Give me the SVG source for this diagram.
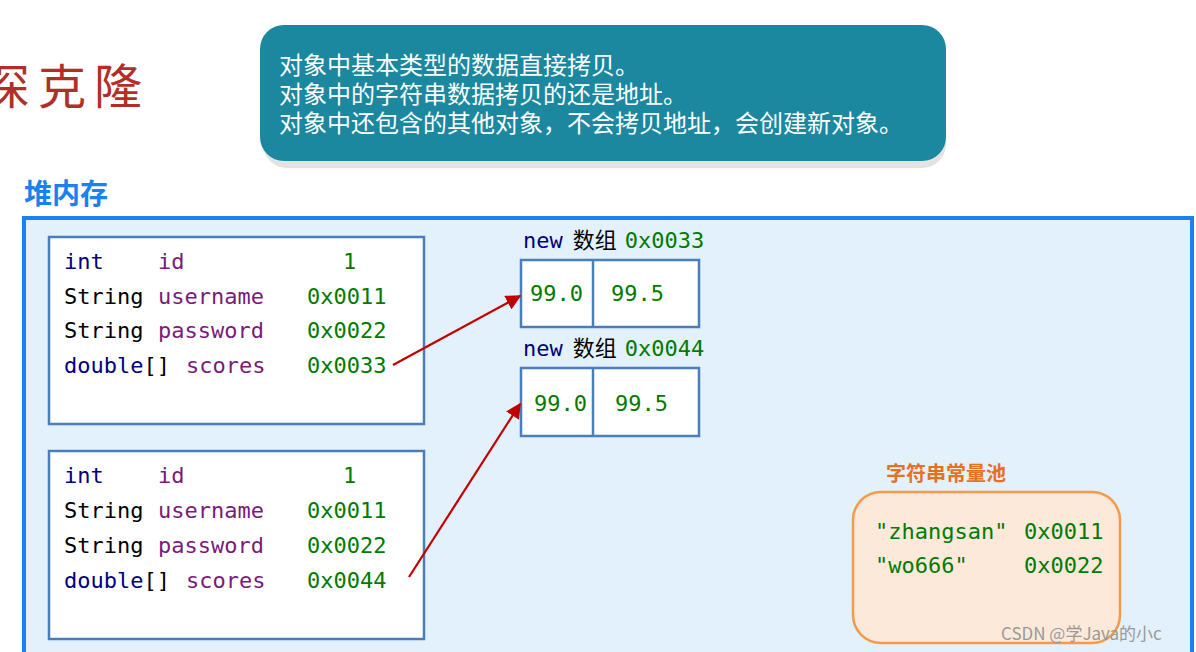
<svg xmlns="http://www.w3.org/2000/svg" width="1196" height="652" viewBox="0 0 1196 652">
<defs>
<style>
.m{font-family:"DejaVu Sans Mono","Liberation Mono",monospace;font-size:22px}
.k{fill:#000080}.v{fill:#7a1a7a}.g{fill:#007a00}.b{fill:#000}
.box{fill:#fff;stroke:#4a7ebb;stroke-width:2.5}
.cjk{font-family:"Noto Sans CJK SC",sans-serif}
</style>
<marker id="ah" viewBox="0 0 10 10" refX="9" refY="5" markerWidth="7" markerHeight="7" orient="auto"><path d="M0,0 L10,5 L0,10 z" fill="#c00000"/></marker>
</defs>
<rect width="1196" height="652" fill="#fff"/>
<text x="-18" y="104" class="cjk" font-size="48" fill="#b03028" letter-spacing="8">深克隆</text>
<g id="note">
<rect x="263" y="31" width="683" height="137" rx="24" fill="#e3e3e3"/>
<rect x="260" y="25" width="686" height="136" rx="24" fill="#1b88a0"/>
<text class="cjk" font-size="24" fill="#fff"><tspan x="279" y="74">对象中基本类型的数据直接拷贝。</tspan><tspan x="279" y="103">对象中的字符串数据拷贝的还是地址。</tspan><tspan x="279" y="132">对象中还包含的其他对象，不会拷贝地址，会创建新对象。</tspan></text>
</g>
<text x="24" y="204" class="cjk" font-size="28" font-weight="bold" fill="#1a82f0">堆内存</text>
<g id="heap"><rect x="24" y="218" width="1168" height="440" fill="#e3f1fd" stroke="#1a82f0" stroke-width="4"/></g>
<g id="obj1">
<rect class="box" x="49" y="237" width="375" height="187"/>
<text class="m"><tspan class="k" x="64" y="269">int</tspan><tspan class="v" x="158" y="269">id</tspan><tspan class="g" x="343" y="269">1</tspan>
<tspan class="b" x="64" y="304">String</tspan><tspan class="v" x="158" y="304">username</tspan><tspan class="g" x="307" y="304">0x0011</tspan>
<tspan class="b" x="64" y="338">String</tspan><tspan class="v" x="158" y="338">password</tspan><tspan class="g" x="307" y="338">0x0022</tspan>
<tspan class="k" x="64" y="373">double</tspan><tspan class="b">[]</tspan><tspan class="v" x="186" y="373">scores</tspan><tspan class="g" x="307" y="373">0x0033</tspan></text>
</g>
<g id="obj2">
<rect class="box" x="49" y="451" width="375" height="188"/>
<text class="m"><tspan class="k" x="64" y="483">int</tspan><tspan class="v" x="158" y="483">id</tspan><tspan class="g" x="343" y="483">1</tspan>
<tspan class="b" x="64" y="518">String</tspan><tspan class="v" x="158" y="518">username</tspan><tspan class="g" x="307" y="518">0x0011</tspan>
<tspan class="b" x="64" y="553">String</tspan><tspan class="v" x="158" y="553">password</tspan><tspan class="g" x="307" y="553">0x0022</tspan>
<tspan class="k" x="64" y="588">double</tspan><tspan class="b">[]</tspan><tspan class="v" x="186" y="588">scores</tspan><tspan class="g" x="307" y="588">0x0044</tspan></text>
</g>
<g id="arr1">
<text x="523" y="248" class="m"><tspan class="k">new</tspan><tspan class="b cjk" dx="10">数组</tspan><tspan class="g" dx="8">0x0033</tspan></text>
<rect class="box" x="521" y="260" width="178" height="67"/>
<line x1="593" y1="260" x2="593" y2="327" stroke="#4a7ebb" stroke-width="2.5"/>
<text class="m g" x="530" y="301">99.0</text><text class="m g" x="611" y="301">99.5</text>
</g>
<g id="arr2">
<text x="523" y="356" class="m"><tspan class="k">new</tspan><tspan class="b cjk" dx="10">数组</tspan><tspan class="g" dx="8">0x0044</tspan></text>
<rect class="box" x="521" y="368" width="178" height="68"/>
<line x1="593" y1="368" x2="593" y2="436" stroke="#4a7ebb" stroke-width="2.5"/>
<text class="m g" x="534" y="411">99.0</text><text class="m g" x="615" y="411">99.5</text>
</g>
<g id="pool">
<text x="886" y="481" class="cjk" font-size="20" font-weight="bold" fill="#e87020">字符串常量池</text>
<rect x="853" y="492" width="267" height="151" rx="28" fill="#fde9da" stroke="#f59a4a" stroke-width="2.5"/>
<text class="m g"><tspan x="875" y="539">"zhangsan"</tspan><tspan x="1024" y="539">0x0011</tspan><tspan x="875" y="573">"wo666"</tspan><tspan x="1024" y="573">0x0022</tspan></text>
</g>
<g id="connectors" stroke="#c00000" stroke-width="2.2" fill="none">
<line x1="393" y1="365" x2="520" y2="296" marker-end="url(#ah)"/>
<line x1="409" y1="577" x2="520" y2="404" marker-end="url(#ah)"/>
</g>
<text x="1001" y="640" font-family="'Noto Sans CJK SC',sans-serif" font-size="17" fill="#999">CSDN @学Java的小c</text>
</svg>
